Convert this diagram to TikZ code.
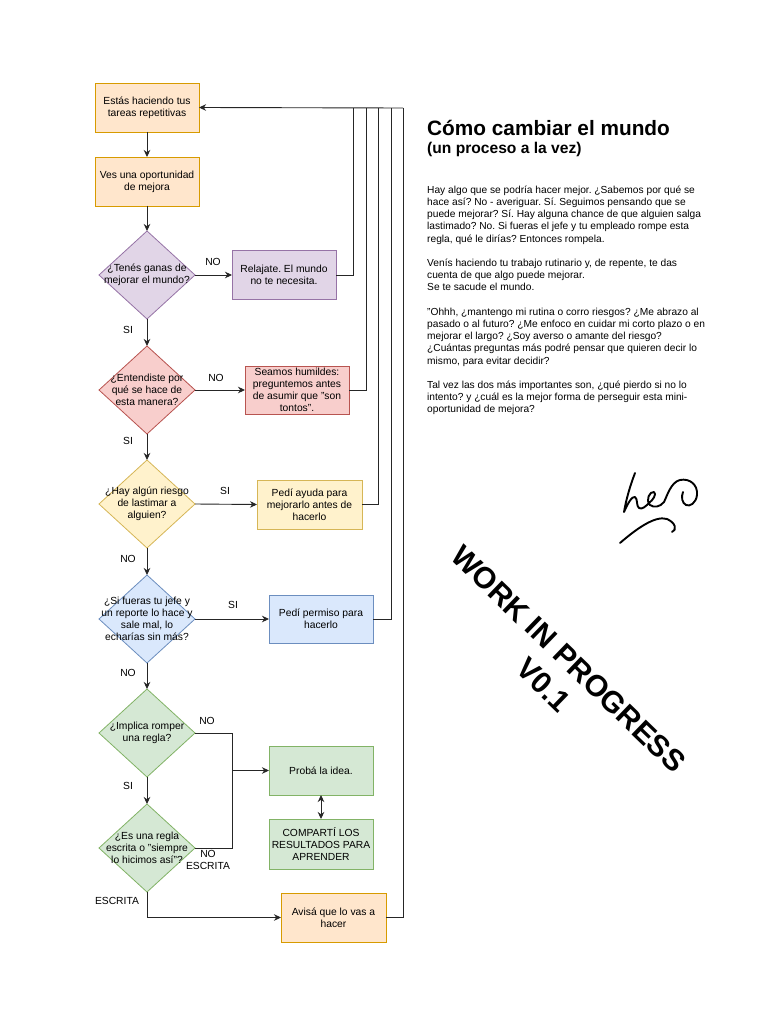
\documentclass[tikz,border=0pt]{standalone}
\usepackage{fontspec}
\setmainfont{Liberation Sans}
\usetikzlibrary{shapes.geometric,arrows.meta}
\definecolor{orF}{HTML}{FFE6CC}\definecolor{orD}{HTML}{D79B00}
\definecolor{puF}{HTML}{E1D5E7}\definecolor{puD}{HTML}{9673A6}
\definecolor{reF}{HTML}{F8CECC}\definecolor{reD}{HTML}{B85450}
\definecolor{yeF}{HTML}{FFF2CC}\definecolor{yeD}{HTML}{D6B656}
\definecolor{blF}{HTML}{DAE8FC}\definecolor{blD}{HTML}{6C8EBF}
\definecolor{grF}{HTML}{D5E8D4}\definecolor{grD}{HTML}{82B366}
\newcommand\boxfont{\fontsize{10.3}{12}\selectfont}
\frenchspacing
\begin{document}
\begin{tikzpicture}[x=1pt,y=-1pt,
  box/.style={rectangle, draw, line width=0.8pt, minimum width=104pt, minimum height=49pt, inner sep=1pt, outer sep=0pt, align=center, font=\boxfont},
  dia/.style={diamond, draw, line width=0.8pt, minimum width=96pt, minimum height=88pt, inner sep=0pt, outer sep=0pt},
  dtext/.style={align=center, font=\boxfont, inner sep=0pt},
  cOr/.style={fill=orF, draw=orD}, cPu/.style={fill=puF, draw=puD},
  cRe/.style={fill=reF, draw=reD}, cYe/.style={fill=yeF, draw=yeD},
  cBl/.style={fill=blF, draw=blD}, cGr/.style={fill=grF, draw=grD},
  arr/.style={-{Stealth[length=7pt,width=6.5pt,inset=2.2pt]}, line width=0.9pt, draw=black!85},
  darr/.style={{Stealth[length=7pt,width=6.5pt,inset=2.2pt]}-{Stealth[length=7pt,width=6.5pt,inset=2.2pt]}, line width=0.9pt, draw=black!85},
  ln/.style={line width=0.9pt, draw=black!85},
  lbl/.style={font=\boxfont, inner sep=0pt, align=center}]
\fill[white] (0,0) rectangle (768,1024);
\path[use as bounding box] (0,0) rectangle (768,1024);

% boxes
\node[box,cOr] (b1) at (147,107.5) {Estás haciendo tus\\tareas repetitivas};
\node[box,cOr] (b2) at (147,181.5) {Ves una oportunidad\\de mejora};
\node[box,cPu] (relax) at (284,275) {Relajate. El mundo\\no te necesita.};
\node[box,cRe,minimum height=48pt] (seamos) at (297,390) {Seamos humildes:\\preguntemos antes\\de asumir que "son\\tontos".};
\node[box,cYe,minimum width=105pt] (ayuda) at (309.5,504.5) {Pedí ayuda para\\mejorarlo antes de\\hacerlo};
\node[box,cBl,minimum height=48pt] (permiso) at (321,619) {Pedí permiso para\\hacerlo};
\node[box,cGr] (proba) at (321,770.5) {Probá la idea.};
\node[box,cGr,minimum height=50pt] (comparti) at (321,844) {COMPARTÍ LOS\\RESULTADOS PARA\\APRENDER};
\node[box,cOr,minimum width=105pt] (avisa) at (333.5,917.5) {Avisá que lo vas a\\hacer};

% diamonds
\node[dia,cPu] (d1) at (147,275) {};
\node[dtext] (d1t) at (d1) {¿Tenés ganas de\\mejorar el mundo?};
\node[dia,cRe] (d2) at (147,390) {};
\node[dtext] (d2t) at (d2) {¿Entendiste por\\qué se hace de\\esta manera?};
\node[dia,cYe] (d3) at (147,504) {};
\node[dtext] (d3t) at (d3) {¿Hay algún riesgo\\de lastimar a\\alguien?};
\node[dia,cBl] (d4) at (147,619) {};
\node[dtext] (d4t) at (d4) {¿Si fueras tu jefe y\\un reporte lo hace y\\sale mal, lo\\echarías sin más?};
\node[dia,cGr] (d5) at (147,733) {};
\node[dtext] (d5t) at (d5) {¿Implica romper\\una regla?};
\node[dia,cGr] (d6) at (147,848) {};
\node[dtext] (d6t) at (d6) {¿Es una regla\\escrita o "siempre\\lo hicimos así"?};

% main flow
\draw[arr] (b1) -- (b2);
\draw[arr] (b2) -- (d1);
\draw[arr] (d1) -- (d2);
\draw[arr] (d2) -- (d3);
\draw[arr] (d3) -- (d4);
\draw[arr] (d4) -- (d5);
\draw[arr] (d5) -- (d6);
\draw[arr] (d1.east) -- (relax.west);
\draw[arr] (d2.east) -- (seamos.west);
\draw[arr] (d3.east) -- (ayuda.west);
\draw[arr] (d4.east) -- (permiso.west);
\coordinate (j) at (232,770.5);
\draw[ln] (d5.east) -| (j);
\draw[arr] (d6.east) -| (j) -- (proba.west);
\draw[darr] (proba.south) -- (comparti.north);
\draw[arr] (d6.south) |- (avisa.west);

% feedback lines
\coordinate (f1) at (353,108);
\coordinate (f2) at (366,108);
\coordinate (f3) at (378,108);
\coordinate (f4) at (391,108);
\coordinate (f5) at (403,108);
\draw[ln] (relax.east) -| (f1);
\draw[ln] (seamos.east) -| (f2);
\draw[ln] (ayuda.east) -| (f3);
\draw[ln] (permiso.east) -| (f4);
\draw[ln] (avisa.east) -| (f5);
\draw[arr] (f5) -- (b1.east);

% labels
\node[lbl] (l1) at (213,262) {NO};
\node[lbl] (l2) at (128,330) {SI};
\node[lbl] (l3) at (216,378) {NO};
\node[lbl] (l4) at (128,441) {SI};
\node[lbl] (l5) at (225,491) {SI};
\node[lbl] (l6) at (128,559) {NO};
\node[lbl] (l7) at (233,605) {SI};
\node[lbl] (l8) at (128,673) {NO};
\node[lbl] (l9) at (207,721) {NO};
\node[lbl] (l10) at (128,786) {SI};
\node[lbl] (l11) at (208,860) {NO\\ESCRITA};
\node[lbl] (l12) at (117,901) {ESCRITA};

% right text
\node[anchor=base west, inner sep=0pt, font=\fontsize{20.8}{24}\selectfont\bfseries] (title) at (427,135.5) {Cómo cambiar el mundo};
\node[anchor=base west, inner sep=0pt, font=\fontsize{15.6}{18}\selectfont\bfseries] (sub) at (427,154) {(un proceso a la vez)};
\node[anchor=north west, inner sep=0pt, align=left, font=\fontsize{10.2}{12.2}\selectfont] (body) at (427,185.5) {%
Hay algo que se podría hacer mejor. ¿Sabemos por qué se\\
hace así? No - averiguar. Sí. Seguimos pensando que se\\
puede mejorar? Sí. Hay alguna chance de que alguien salga\\
lastimado? No. Si fueras el jefe y tu empleado rompe esta\\
regla, qué le dirías? Entonces rompela.\\
\mbox{}\\
Venís haciendo tu trabajo rutinario y, de repente, te das\\
cuenta de que algo puede mejorar.\\
Se te sacude el mundo.\\
\mbox{}\\
"Ohhh, ¿mantengo mi rutina o corro riesgos? ¿Me abrazo al\\
pasado o al futuro? ¿Me enfoco en cuidar mi corto plazo o en\\
mejorar el largo? ¿Soy averso o amante del riesgo?\\
¿Cuántas preguntas más podré pensar que quieren decir lo\\
mismo, para evitar decidir?\\
\mbox{}\\
Tal vez las dos más importantes son, ¿qué pierdo si no lo\\
intento? y ¿cuál es la mejor forma de perseguir esta mini-\\
oportunidad de mejora?};

% signature
\draw[line width=1.9pt, line cap=round, line join=round]
  (635,473) .. controls (630,486) and (626,500) .. (624,512)
  .. controls (628,503) and (632,496) .. (635,497)
  .. controls (638,499) and (636,506) .. (639,508)
  .. controls (642,510) and (646,506) .. (649,503)
  .. controls (653,500) and (657,494) .. (654,492)
  .. controls (650,491) and (645,500) .. (650,505)
  .. controls (654,508) and (660,507) .. (664,502)
  .. controls (667,496) and (671,482) .. (680,480)
  .. controls (690,478) and (698,485) .. (697,495)
  .. controls (696,503) and (690,507) .. (686,505)
  .. controls (682,503) and (681,497) .. (683,492);
\draw[line width=1.9pt, line cap=round]
  (620,543) .. controls (635,530) and (655,515) .. (667,519)
  .. controls (676,523) and (677,530) .. (672,532);

% watermark
\node[align=center, inner sep=0pt, rotate=-44, font=\fontsize{30}{36}\selectfont\bfseries] (wip) at (556,672) {WORK IN PROGRESS\\V0.1};
\end{tikzpicture}
\end{document}
